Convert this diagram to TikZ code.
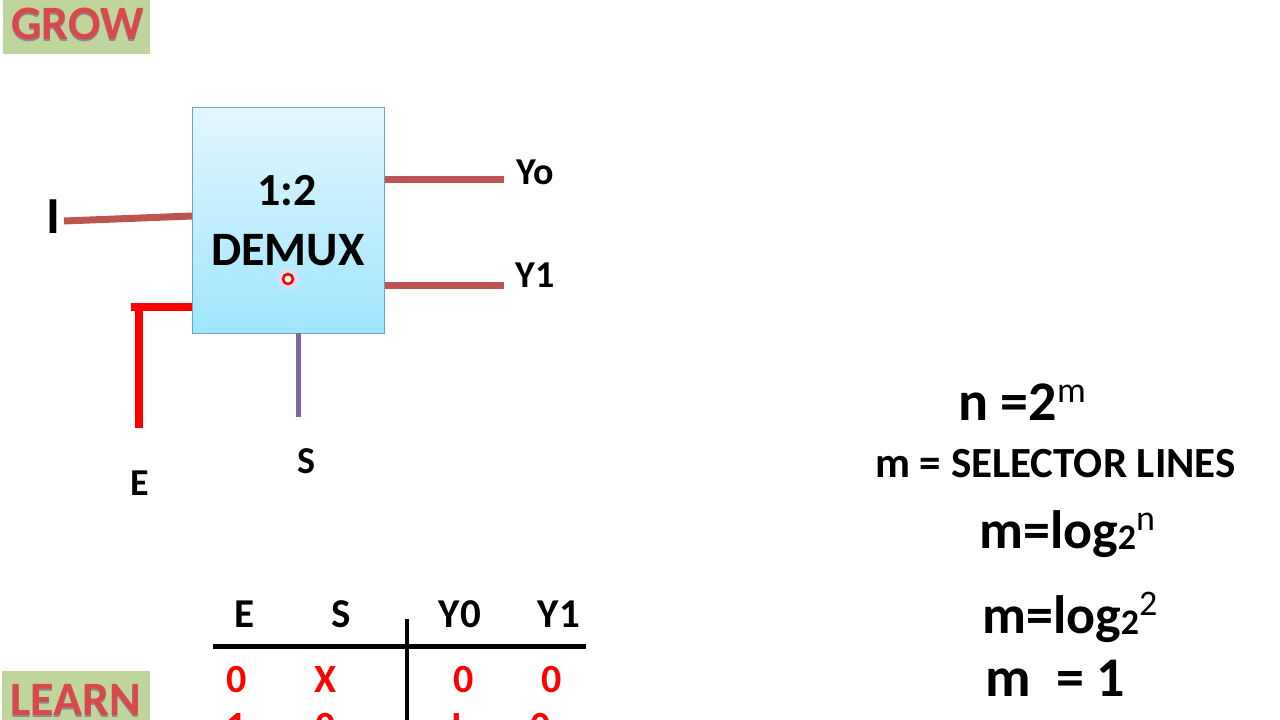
\documentclass[tikz,border=0pt]{standalone}
\usepackage{fontspec}
\setmainfont{Carlito}
\usetikzlibrary{positioning}
\definecolor{wirered}{HTML}{BC5552}
\definecolor{wirepurple}{HTML}{8064A2}
\definecolor{badgegreen}{HTML}{C0D59B}
\definecolor{badgetext}{HTML}{D8484C}
\definecolor{boxtop}{HTML}{E2F6FF}
\definecolor{boxbottom}{HTML}{9FE6FD}
\newcommand{\fs}[1]{\fontsize{#1}{#1}\selectfont}
\newcommand{\upidx}[1]{\raisebox{18pt}{\fs{36}\mdseries #1}}
\newcommand{\downidx}[1]{\raisebox{-1pt}{\fs{36}\bfseries #1}}
\newcommand{\badgetxt}[1]{\rlap{\raisebox{-1.5pt}{\color{black!45}#1}}#1}
\tikzstyle{badge} = [text=badgetext, font=\fs{48}\bfseries, inner sep=0pt]
\tikzstyle{plate} = [fill=badgegreen, inner sep=0pt]
\tikzstyle{block} = [draw=cyan!45!gray, line width=0.8pt, top color=boxtop, bottom color=boxbottom, minimum width=192pt, minimum height=226pt, inner sep=0pt]
\tikzstyle{wire} = [wirered, line width=7pt]
\tikzstyle{pinsmall} = [font=\fs{38}\bfseries]
\tikzstyle{head} = [font=\fs{41}\bfseries]
\tikzstyle{cell} = [font=\fs{40}\bfseries, text=red]
\tikzstyle{eqn} = [font=\fs{56}\bfseries, anchor=base west, inner sep=0pt]
\begin{document}
\begin{tikzpicture}[x=1pt, y=-1pt, node distance=100pt]
\useasboundingbox (0,0) rectangle (1280,720);
\clip (0,0) rectangle (1280,720);

\node [plate, minimum width=147pt, minimum height=54pt] (grow) at (76.5,27) {};
\node [badge] (growtxt) at (77.5,25) {\badgetxt{GROW}};
\node [plate, minimum width=148pt, minimum height=60pt] (learn) at (76,701) {};
\node [badge] (learntxt) at (76,701) {\badgetxt{LEARN}};

\node [block] (demux) at (288,220) {};
\node [font=\fs{46}\bfseries] (ratio) at (287,191) {1:2};
\node [font=\fs{48}\bfseries] (name) at (288,250) {DEMUX};
\node [circle, fill=red!15, opacity=0.5, minimum size=22pt, inner sep=0pt] (glow) at (288,279) {};
\node [circle, draw=red, line width=2.5pt, fill=white, minimum size=10pt, inner sep=0pt] (cursor) at (288,279) {};

\node [font=\fs{52}\bfseries, inner sep=0pt] (I) at (53,217) {I};
\node [pinsmall] (Yo) at (535,172) {Yo};
\node [pinsmall] (Y1) at (535,275) {Y1};
\node [pinsmall] (S) at (306,461) {S};
\node [pinsmall] (E) at (140,483) {E};

\coordinate (Iend) at (64,221);
\coordinate (Iin) at (192,216);
\coordinate (Y0out) at (385,179);
\coordinate (Y0end) at (504,179);
\coordinate (Y1out) at (385,285);
\coordinate (Y1end) at (504,285);
\coordinate (Ein) at (192,307);
\coordinate (Eleft) at (131,307);
\coordinate (Edrop) at (139,303);
\coordinate (Eend) at (139,428);
\coordinate (Sout) at (298,333);
\coordinate (Send) at (298,417);

\draw [wire] (Iend) -- (Iin);
\draw [wire] (Y0out) -- (Y0end);
\draw [wire] (Y1out) -- (Y1end);
\draw [red, line width=8pt] (Ein) -- (Eleft);
\draw [red, line width=8pt] (Edrop) -- (Eend);
\draw [wirepurple, line width=5pt] (Sout) -- (Send);

% table
\node [head] (hE) at (244,614) {E};
\node [head, right of=hE, node distance=97pt] (hS) {S};
\node [head, right of=hS, node distance=119pt] (hY0) {Y0};
\node [head, right of=hY0, node distance=99pt] (hY1) {Y1};
\coordinate (ruleL) at (213,646);
\coordinate (ruleR) at (586,646);
\coordinate (sepT) at (407,619);
\coordinate (sepB) at (407,725);
\draw [line width=5pt] (ruleL) -- (ruleR);
\draw [line width=4pt] (sepT) -- (sepB);

\node [cell] (a0) at (237,680) {0};
\node [cell, right of=a0, node distance=89pt] (a1) {X};
\node [cell, right of=a1, node distance=138pt] (a2) {0};
\node [cell, right of=a2, node distance=88pt] (a3) {0};
\node [cell] (b0) at (237,727) {1};
\node [cell, right of=b0, node distance=89pt] (b1) {0};
\node [cell, right of=b1, node distance=131pt] (b2) {I};
\node [cell, right of=b2, node distance=84pt] (b3) {0};

% formulas
\node [eqn] (eq1) at (958,420) {n =2\upidx{m}};
\node [eqn, font=\fs{43}\bfseries] (eq2) at (875,477) {m = SELECTOR LINES};
\node [eqn, font=\fs{54}\bfseries] (eq3) at (979,548) {m=log\downidx{2}\upidx{n}};
\node [eqn, font=\fs{54}\bfseries] (eq4) at (982,633) {m=log\downidx{2}\upidx{2}};
\node [eqn] (eq5) at (985,696) {m\ \ = 1};
\end{tikzpicture}
\end{document}
